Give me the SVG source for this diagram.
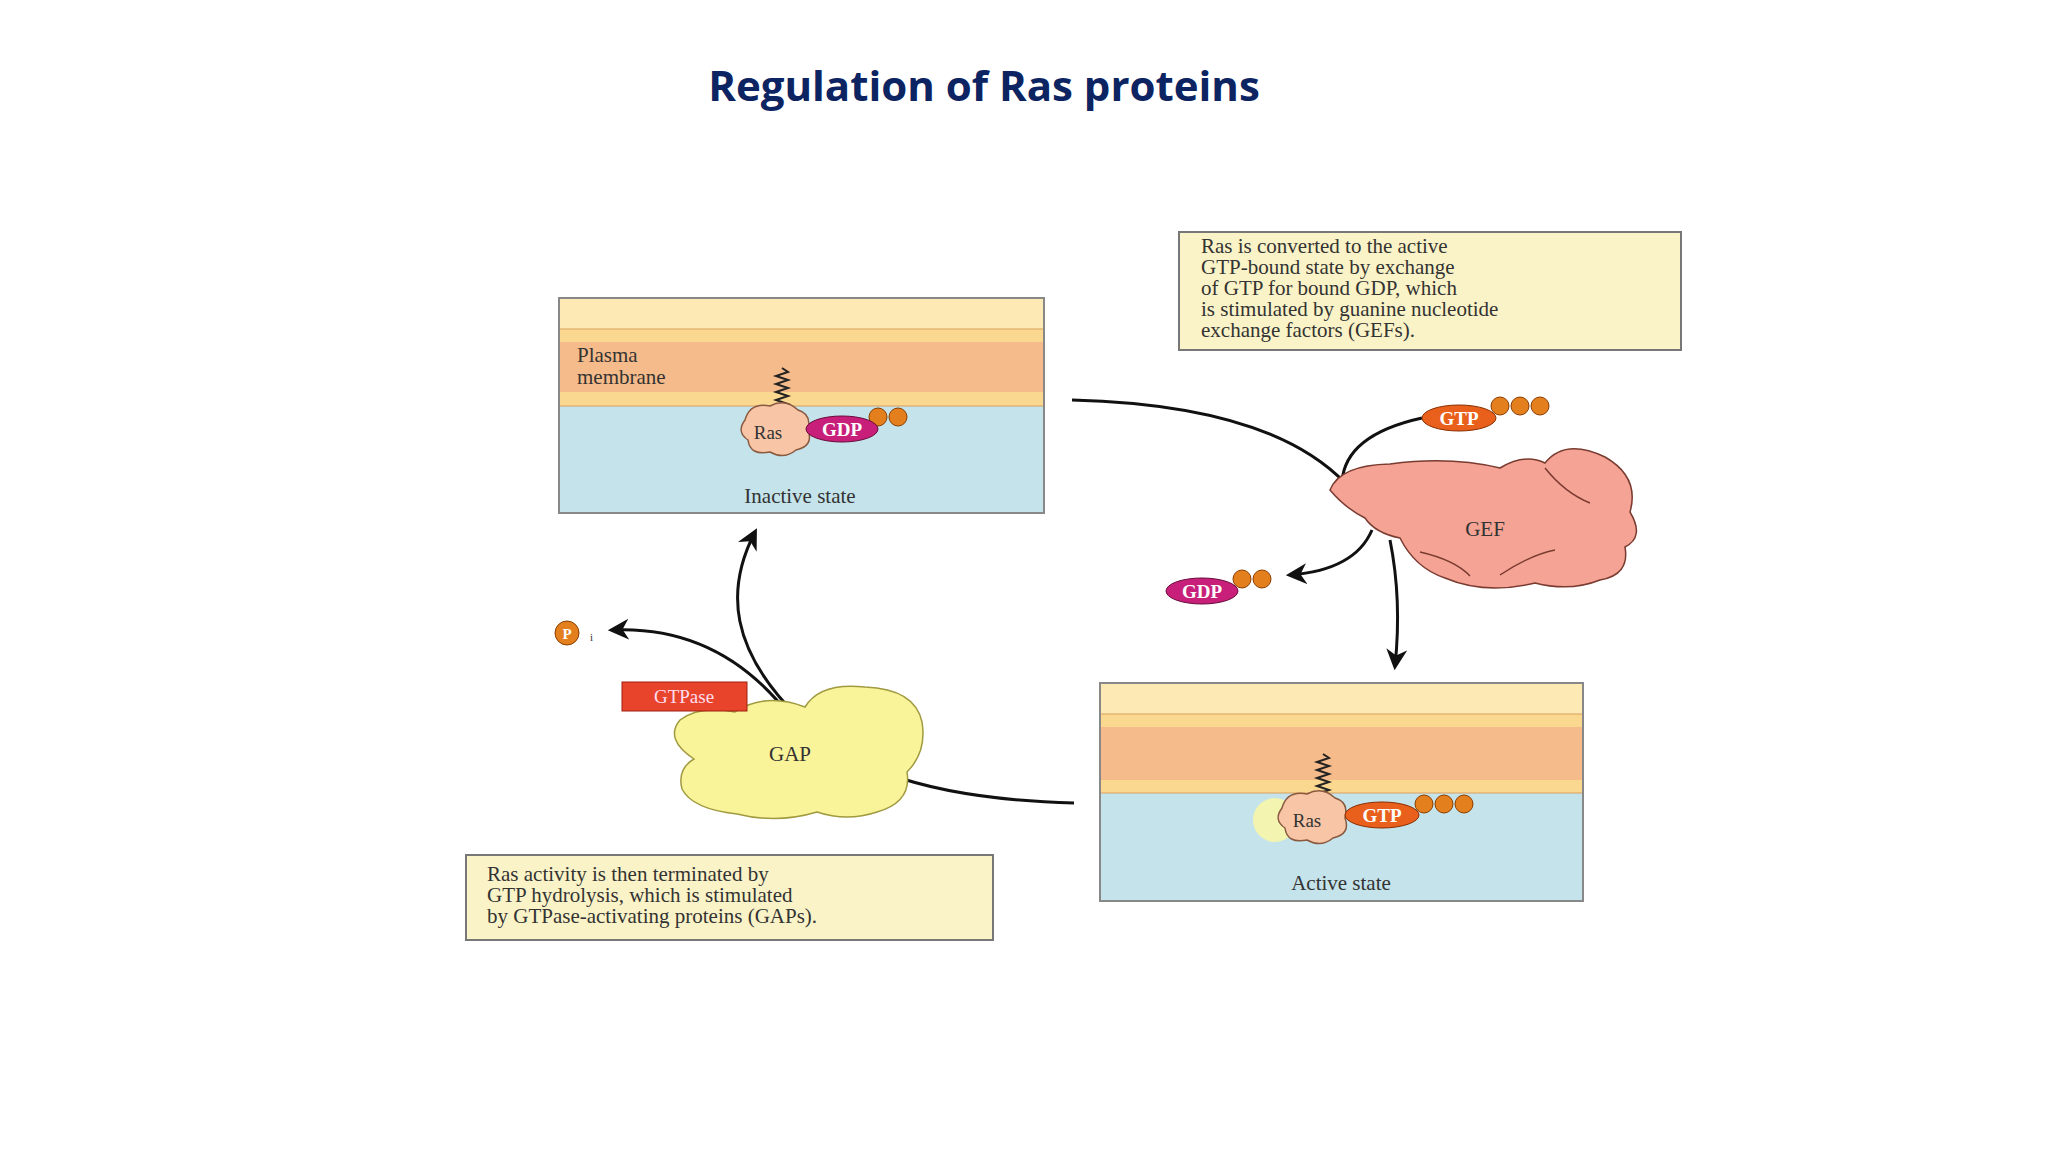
<svg xmlns="http://www.w3.org/2000/svg" width="2048" height="1152" viewBox="0 0 2048 1152">
<defs>
<marker id="ah" viewBox="0 0 10 10" refX="8" refY="5" markerWidth="7" markerHeight="7" orient="auto"><path d="M0,0 L10,5 L0,10 L3,5 Z" fill="#111"/></marker>
</defs>
<style>
.t{font-family:"Liberation Serif","DejaVu Serif",serif;fill:#333}
.lb{font-size:21px}
.c{fill:none;stroke:#111;stroke-width:3}
.box{fill:#fbf3c8;stroke:#777;stroke-width:2}
.w{font-family:"Liberation Serif",serif;fill:#fff;font-size:19px;font-weight:bold;text-anchor:middle}
</style>
<rect width="2048" height="1152" fill="#fff"/>
<text x="984" y="101" text-anchor="middle" font-family="Open Sans, Liberation Sans, sans-serif" font-weight="bold" font-size="42" fill="#0c2461">Regulation of Ras proteins</text>

<g id="connectors">
<path class="c" d="M1072,400 Q1270,405 1345,483"/>
<path class="c" d="M1390,540 Q1402,600 1395,666" marker-end="url(#ah)"/>
<path class="c" d="M1422,418 Q1345,435 1342,482"/>
<path class="c" d="M1372,530 Q1355,570 1290,575" marker-end="url(#ah)"/>
<path class="c" d="M1074,803 Q960,800 888,774"/>
<path class="c" d="M799,718 C730,650 725,590 755,532" marker-end="url(#ah)"/>
<path class="c" d="M790,716 Q720,625 612,630" marker-end="url(#ah)"/>
</g>

<g id="inactive">
<rect x="559" y="298" width="485" height="215" fill="#c4e3ea" stroke="#888" stroke-width="2"/>
<rect x="560" y="299" width="483" height="30" fill="#fce9b4"/>
<rect x="560" y="329" width="483" height="13" fill="#fbd890"/>
<rect x="560" y="342" width="483" height="50" fill="#f6bb8a"/>
<rect x="560" y="392" width="483" height="14" fill="#fbd890"/>
<line x1="560" y1="329" x2="1043" y2="329" stroke="#d9a060"/>
<line x1="560" y1="406" x2="1043" y2="406" stroke="#d9a060"/>
<text class="t lb" x="577" y="362">Plasma</text>
<text class="t lb" x="577" y="384">membrane</text>
<path d="M782,368 l6,4 l-12,4 l12,4 l-12,4 l12,4 l-12,4 l12,4 l-12,4 l12,4 l-6,4" fill="none" stroke="#222" stroke-width="2"/>
<path d="M745,420 q5,-18 25,-14 q15,-8 28,4 q14,4 10,20 q6,16 -12,20 q-12,10 -26,2 q-20,4 -22,-12 q-12,-8 -3,-20z" fill="#f8c6a6" stroke="#8a5a40" stroke-width="1.5"/>
<text class="t" x="768" y="439" font-size="19" text-anchor="middle">Ras</text>
<circle cx="878" cy="417" r="9" fill="#e47f1d" stroke="#8a3d00"/>
<circle cx="898" cy="417" r="9" fill="#e47f1d" stroke="#8a3d00"/>
<ellipse cx="842" cy="429" rx="36" ry="13" fill="#c8207a" stroke="#6a0a3a"/>
<text class="w" x="842" y="436">GDP</text>
<text class="t lb" x="800" y="503" text-anchor="middle">Inactive state</text>
</g>

<g id="gef-note">
<rect class="box" x="1179" y="232" width="502" height="118"/>
<text class="t lb" x="1201" y="253">Ras is converted to the active</text>
<text class="t lb" x="1201" y="274">GTP-bound state by exchange</text>
<text class="t lb" x="1201" y="295">of GTP for bound GDP, which</text>
<text class="t lb" x="1201" y="316">is stimulated by guanine nucleotide</text>
<text class="t lb" x="1201" y="337">exchange factors (GEFs).</text>
</g>

<g id="gef">
<path d="M1330,490 q10,-25 60,-26 q60,-8 110,4 q25,-15 45,-5 q20,-25 60,-6 q35,20 25,55 q15,25 -5,35 q5,28 -25,33 q-30,12 -65,3 q-50,12 -90,-5 q-30,-10 -45,-40 q-25,-5 -35,-20 q-20,-10 -35,-28z" fill="#f4a394" stroke="#7a3b30" stroke-width="1.5"/>
<path d="M1545,468 q20,25 45,35 M1500,575 q30,-20 55,-25 M1420,552 q35,8 50,24" fill="none" stroke="#7a3b30" stroke-width="1.5"/>
<text class="t lb" x="1485" y="536" text-anchor="middle">GEF</text>
</g>

<g id="gtp-free">
<circle cx="1500" cy="406" r="9" fill="#e47f1d" stroke="#8a3d00"/>
<circle cx="1520" cy="406" r="9" fill="#e47f1d" stroke="#8a3d00"/>
<circle cx="1540" cy="406" r="9" fill="#e47f1d" stroke="#8a3d00"/>
<ellipse cx="1459" cy="418" rx="37" ry="13" fill="#e8601c" stroke="#8a2d00"/>
<text class="w" x="1459" y="425">GTP</text>
</g>

<g id="gdp-free">
<circle cx="1242" cy="579" r="9" fill="#e47f1d" stroke="#8a3d00"/>
<circle cx="1262" cy="579" r="9" fill="#e47f1d" stroke="#8a3d00"/>
<ellipse cx="1202" cy="591" rx="36" ry="13" fill="#c8207a" stroke="#6a0a3a"/>
<text class="w" x="1202" y="598">GDP</text>
</g>

<g id="active">
<rect x="1100" y="683" width="483" height="218" fill="#c4e3ea" stroke="#888" stroke-width="2"/>
<rect x="1101" y="684" width="481" height="30" fill="#fce9b4"/>
<rect x="1101" y="714" width="481" height="13" fill="#fbd890"/>
<rect x="1101" y="727" width="481" height="53" fill="#f6bb8a"/>
<rect x="1101" y="780" width="481" height="13" fill="#fbd890"/>
<line x1="1101" y1="714" x2="1582" y2="714" stroke="#d9a060"/>
<line x1="1101" y1="793" x2="1582" y2="793" stroke="#d9a060"/>
<path d="M1323,754 l6,4 l-12,4 l12,4 l-12,4 l12,4 l-12,4 l12,4 l-12,4 l12,4 l-12,4 l12,4 l-6,4" fill="none" stroke="#222" stroke-width="2"/>
<circle cx="1275" cy="820" r="22" fill="#fff7a0" opacity="0.8"/>
<path d="M1282,808 q5,-18 25,-14 q15,-8 28,4 q14,4 10,20 q6,16 -12,20 q-12,10 -26,2 q-20,4 -22,-12 q-12,-8 -3,-20z" fill="#f8c6a6" stroke="#8a5a40" stroke-width="1.5"/>
<text class="t" x="1307" y="827" font-size="19" text-anchor="middle">Ras</text>
<circle cx="1424" cy="804" r="9" fill="#e47f1d" stroke="#8a3d00"/>
<circle cx="1444" cy="804" r="9" fill="#e47f1d" stroke="#8a3d00"/>
<circle cx="1464" cy="804" r="9" fill="#e47f1d" stroke="#8a3d00"/>
<ellipse cx="1382" cy="815" rx="37" ry="13" fill="#e8601c" stroke="#8a2d00"/>
<text class="w" x="1382" y="822">GTP</text>
<text class="t lb" x="1341" y="890" text-anchor="middle">Active state</text>
</g>

<g id="gap">
<path d="M680,720 q20,-15 55,-8 q30,-20 70,-5 q15,-25 60,-20 q50,2 57,35 q5,30 -15,50 q5,30 -30,40 q-30,10 -60,0 q-40,12 -80,2 q-45,-5 -55,-25 q-5,-20 12,-30 q-30,-20 -14,-39z" fill="#f9f39a" stroke="#a09a40" stroke-width="1.5"/>
<text class="t lb" x="790" y="761" text-anchor="middle">GAP</text>
<rect x="622" y="682" width="125" height="29" fill="#e8442c" stroke="#a02010"/>
<text x="684" y="703" text-anchor="middle" font-family="Liberation Serif, serif" font-size="19" fill="#fde">GTPase</text>
</g>

<g id="pi">
<circle cx="567" cy="633" r="12" fill="#e47f1d" stroke="#8a3d00"/>
<text x="567" y="639" text-anchor="middle" font-family="Liberation Serif, serif" font-size="15" font-weight="bold" fill="#fff">P</text>
<text x="590" y="641" font-family="Liberation Serif, serif" font-size="11" fill="#333">i</text>
</g>

<g id="gap-note">
<rect class="box" x="466" y="855" width="527" height="85"/>
<text class="t lb" x="487" y="881">Ras activity is then terminated by</text>
<text class="t lb" x="487" y="902">GTP hydrolysis, which is stimulated</text>
<text class="t lb" x="487" y="923">by GTPase-activating proteins (GAPs).</text>
</g>
</svg>
